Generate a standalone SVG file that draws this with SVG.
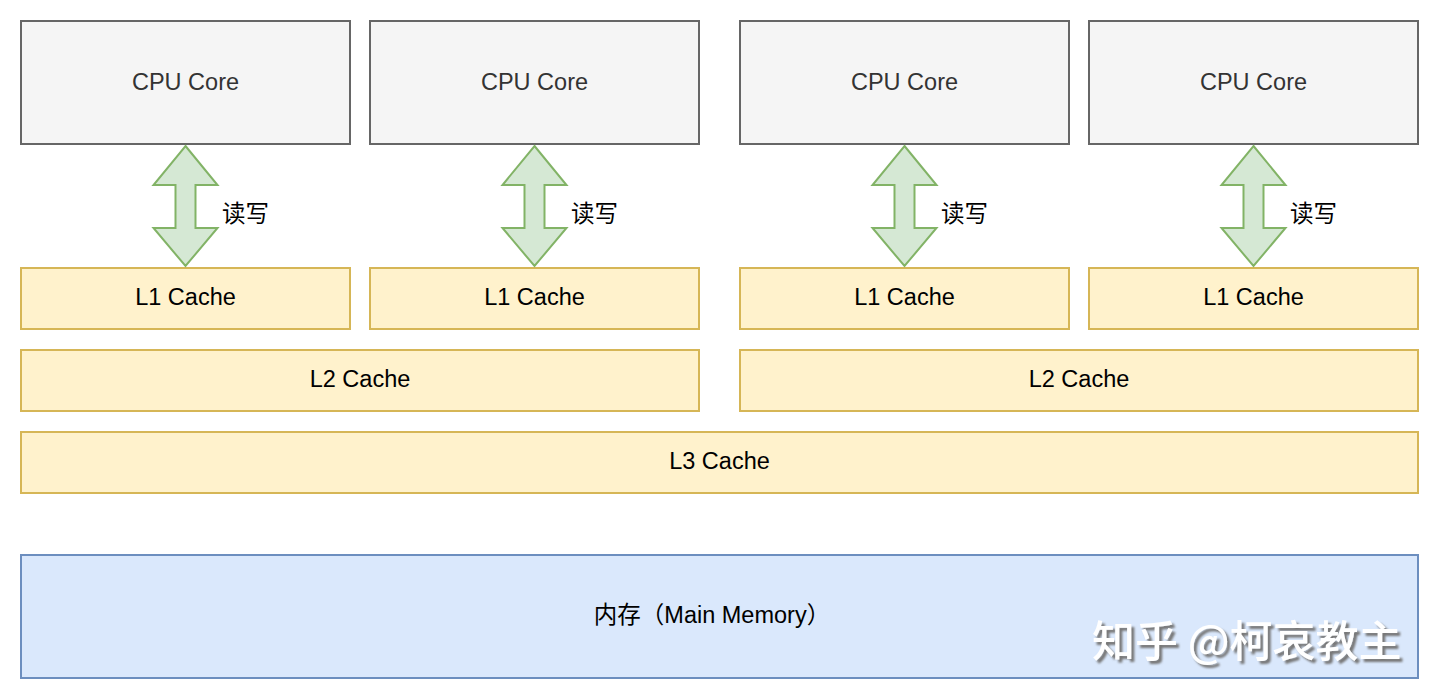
<svg xmlns="http://www.w3.org/2000/svg" width="1440" height="700" viewBox="0 0 1440 700">
<defs>
<style>
.core{fill:#f5f5f5;stroke:#666666;stroke-width:2}
.cache{fill:#fff2cc;stroke:#d6b656;stroke-width:2}
.mem{fill:#dae8fc;stroke:#6c8ebf;stroke-width:2}
.arr{fill:#d5e8d4;stroke:#82b366;stroke-width:2}
text{font-family:"Liberation Sans","Noto Sans CJK SC",sans-serif;font-size:23.5px;fill:#333;text-anchor:middle;dominant-baseline:central}
.lbl{text-anchor:start;fill:#000}
.blk{fill:#000}
.wm{font-size:43px;text-anchor:start;font-family:"Noto Sans CJK SC",sans-serif;font-weight:500;fill:#fff}
</style>
<filter id="sh" x="-10%" y="-30%" width="120%" height="160%"><feDropShadow dx="3" dy="3" stdDeviation="1" flood-color="#777"/></filter>
<path id="da" d="M0,146 L32,185 L10,185 L10,228 L32,228 L0,266 L-32,228 L-10,228 L-10,185 L-32,185 Z"/>
</defs>
<rect width="1440" height="700" fill="#fff"/>
<g id="core1"><rect class="core" x="21" y="21" width="329" height="123"/><text x="185.5" y="82">CPU Core</text></g>
<g id="core2"><rect class="core" x="370" y="21" width="329" height="123"/><text x="534.5" y="82">CPU Core</text></g>
<g id="core3"><rect class="core" x="740" y="21" width="329" height="123"/><text x="904.5" y="82">CPU Core</text></g>
<g id="core4"><rect class="core" x="1089" y="21" width="329" height="123"/><text x="1253.5" y="82">CPU Core</text></g>
<g id="l1a"><rect class="cache" x="21" y="268" width="329" height="61"/><text class="blk" x="185.5" y="297">L1 Cache</text></g>
<g id="l1b"><rect class="cache" x="370" y="268" width="329" height="61"/><text class="blk" x="534.5" y="297">L1 Cache</text></g>
<g id="l1c"><rect class="cache" x="740" y="268" width="329" height="61"/><text class="blk" x="904.5" y="297">L1 Cache</text></g>
<g id="l1d"><rect class="cache" x="1089" y="268" width="329" height="61"/><text class="blk" x="1253.5" y="297">L1 Cache</text></g>
<g id="l2a"><rect class="cache" x="21" y="350" width="678" height="61"/><text class="blk" x="360" y="379">L2 Cache</text></g>
<g id="l2b"><rect class="cache" x="740" y="350" width="678" height="61"/><text class="blk" x="1079" y="379">L2 Cache</text></g>
<g id="l3"><rect class="cache" x="21" y="432" width="1397" height="61"/><text class="blk" x="719.5" y="461">L3 Cache</text></g>
<g id="mem"><rect class="mem" x="21" y="555" width="1397" height="123"/><text class="blk" x="712" y="615">内存（Main Memory）</text></g>
<g id="connectors">
<use href="#da" class="arr" x="185.5"/><text class="lbl" x="222" y="214">读写</text>
<use href="#da" class="arr" x="534.5"/><text class="lbl" x="571" y="214">读写</text>
<use href="#da" class="arr" x="904.5"/><text class="lbl" x="941" y="214">读写</text>
<use href="#da" class="arr" x="1253.5"/><text class="lbl" x="1290" y="214">读写</text>
</g>
<g id="watermark">
<text class="wm" x="1092" y="638" filter="url(#sh)">知乎 @柯哀教主</text>
</g>
</svg>
